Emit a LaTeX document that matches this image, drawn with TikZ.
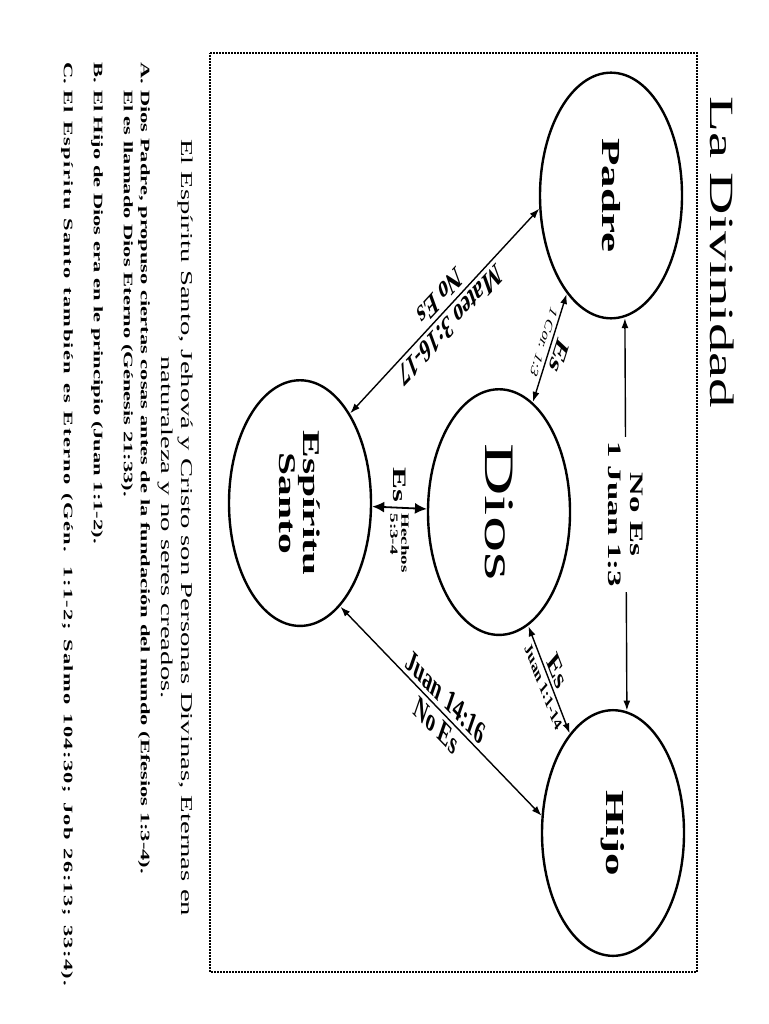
\documentclass[tikz,border=0pt]{standalone}
\usepackage{fontspec}
\setmainfont{Liberation Serif}
\usetikzlibrary{arrows.meta}

\begin{document}
\begin{tikzpicture}[
    x=1pt, y=1pt, rotate=-90, xscale=1.73, transform shape,
    persona/.style={circle, draw, line width=2.4pt, minimum size=142pt,
      inner sep=0pt, align=center},
    enlace/.style={{Latex[length=10pt,width=7pt]}-{Latex[length=10pt,width=7pt]},
      line width=1.4pt},
    etiqueta/.style={font=\fontsize{19}{22}\selectfont\bfseries, inner sep=2.5pt},
    cita/.style={font=\fontsize{11}{12}\selectfont, inner sep=2.5pt}
  ]
  \useasboundingbox (0,0) rectangle (591.9,768);

  % marco
  \draw[dash pattern=on 1.6pt off 1.4pt, line width=2pt] (30.6,210) rectangle (561.8,697);

  \node[anchor=base west, font=\fontsize{34}{40}\selectfont] (titulo) at (52,710) {La Divinidad};

  % personas
  \node[persona, font=\fontsize{26}{30}\selectfont\bfseries] (padre) at (113,611) {Padre};
  \node[persona, font=\fontsize{26}{30}\selectfont\bfseries] (hijo) at (481.5,613) {Hijo};
  \node[persona, font=\fontsize{42}{44}\selectfont] (dios) at (296,499) {Dios};
  \node[persona, font=\fontsize{24}{24}\selectfont\bfseries] (espiritu) at (290.8,300) {Espíritu\\Santo};

  % relaciones
  \draw[enlace] (padre.11) -- node[etiqueta, fill=white, align=center] {No Es\\1 Juan 1:3} (hijo.169);
  \draw[enlace] (padre.-38) -- node[etiqueta, above, rotate=-28.5, inner sep=4pt] {Es}
    node[cita, below, rotate=-28.5] {1 Cor. 1:3} (dios.152);
  \draw[enlace] (padre.-84) -- node[etiqueta, above, rotate=-58] {Mateo 3:16-17}
    node[etiqueta, below, rotate=-58] {No Es} (espiritu.136);
  \draw[enlace] (espiritu.34) -- node[etiqueta, above, rotate=59] {Juan 14:16}
    node[etiqueta, below, rotate=59] {No Es} (hijo.-98);
  \draw[enlace] (dios.24) -- node[etiqueta, above, rotate=33.6] {Es}
    node[cita, below, rotate=33.6, font=\fontsize{11.5}{12}\selectfont\bfseries] {Juan 1:1-14} (hijo.-143);
  \draw[enlace, line width=1.8pt, {Latex[length=12pt,width=11pt]}-{Latex[length=12pt,width=11pt]}] (espiritu) --
    node[etiqueta, left] {Es}
    node[cita, right, align=left, font=\fontsize{11}{11}\selectfont\bfseries] {Hechos\\5:3-4} (dios);

  % textos
  \node[font=\fontsize{16.6}{20}\selectfont, align=center] (lema) at (305,175)
    {El Espíritu Santo, Jehová y Cristo son Personas Divinas, Eternas en\\naturaleza y no seres creados.};
  \node[anchor=north west, inner sep=0pt, font=\fontsize{13}{17}\selectfont\bfseries] (notas) at (36,153) {%
    \begin{tabular}{@{}l@{ }l@{}}
      A. & Dios Padre, propuso ciertas cosas antes de la fundación del mundo (Efesios 1:3-4).\\
         & El es llamado Dios Eterno (Génesis 21:33).\\[13pt]
      B. & El Hijo de Dios era en le principio (Juan 1:1-2).\\[13pt]
      C. & {\addfontfeature{LetterSpace=6}\makebox[518pt][s]{El Espíritu Santo también es Eterno (Gén. 1:1-2; Salmo 104:30; Job 26:13; 33:4).}}
    \end{tabular}};
\end{tikzpicture}
\end{document}
